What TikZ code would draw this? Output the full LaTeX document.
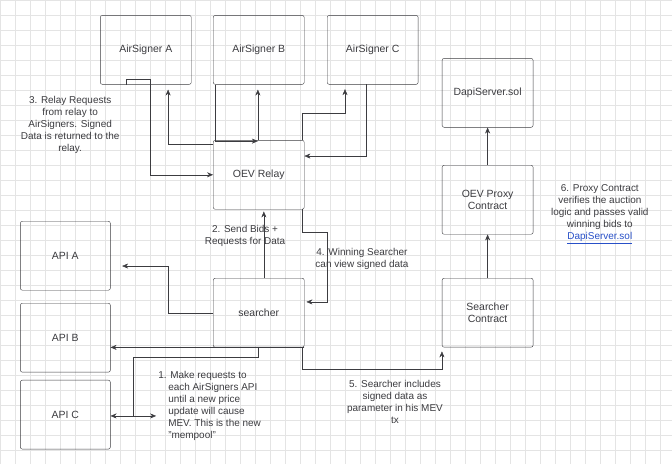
\documentclass[tikz,border=0pt]{standalone}
\usepackage{fontspec}
\setmainfont{Liberation Sans}
\usetikzlibrary{arrows.meta}
\definecolor{gridc}{RGB}{228,228,228}
\definecolor{ink}{RGB}{60,60,64}
\definecolor{linkc}{RGB}{40,80,200}
\begin{document}
\begin{tikzpicture}[x=1bp,y=-1bp,
  box/.style={draw=ink,rounded corners=2bp,minimum width=91bp,minimum height=69bp,anchor=north west,inner sep=0pt,font=\fontsize{10.5}{12.5}\selectfont,text=ink,align=center},
  note/.style={font=\fontsize{10}{12}\selectfont,text=ink,align=center,inner sep=0pt},
  con/.style={draw=ink,-{Stealth[length=6bp,width=5bp]}}]
\fill[white] (0,0) rectangle (672,464);
\draw[gridc,step=15bp] (0,0) grid (672,464);
% boxes
\node[box] (asa) at (100,15) {AirSigner A};
\node[box] (asb) at (213,15) {AirSigner B};
\node[box] (asc) at (327,15) {AirSigner C};
\node[box] (relay) at (213,140) {OEV Relay};
\node[box] (dapi) at (442,58) {DapiServer.sol};
\node[box] (proxy) at (442,165) {OEV Proxy\\Contract};
\node[box] (scon) at (442,278) {Searcher\\Contract};
\node[box] (srch) at (213,278) {searcher};
\node[box,minimum width=90bp] (apia) at (20,221) {API A};
\node[box,minimum width=90bp] (apib) at (20,303) {API B};
\node[box,minimum width=90bp] (apic) at (20,380) {API C};
% relay <-> airsigners
\draw[con] (asa.south west) ++(26,0) -- ++(0,-5) -| ++(24,5) |- (relay.west);
\draw[con] ([yshift=-4]relay.north west) -| ([yshift=-5]asa.south east -| 168,0);
\draw[con] (asb.south west) ++(2,0) |- ([xshift=45,yshift=-1]relay.north west);
\draw[con] ([xshift=45]relay.north west) -- ([xshift=45,yshift=-5]asb.south west);
\draw[con] ([xshift=-2]relay.north east) |- (345,113) -- (345,89);
\draw[con] (366,84) |- ([yshift=-16]relay.north east);
% searcher
\draw[con] ([xshift=51]srch.north west) -- ([xshift=51,yshift=-2]relay.south west);
\draw[con] ([xshift=-2]relay.south east) |- (327,232) |- ([xshift=2,yshift=-24]srch.north east);
\draw[con] ([yshift=34]srch.south west) -| (168,266) -- (122,266);
\draw[con] (srch.south east) -- (apib.south east |- srch.south east);
\coordinate (c1) at (133,416);
\draw[ink] ([xshift=45]srch.south west) |- (133,357) -- (c1);
\draw[con] (c1) -- (apic.east |- c1);
\draw[con] (c1) -- (156,416);
\draw[con] ([xshift=-2]srch.south east) |- (442,369) -- ([yshift=-4]scon.south west);
\draw[con] (scon.north) -- (proxy.south);
\draw[con] (proxy.north) -- (dapi.south);
% notes
\node[note] at (70,125) {3. Relay Requests\\from relay to\\AirSigners. Signed\\Data is returned to the\\relay.};
\node[note] at (245,236) {2. Send Bids +\\Requests for Data};
\node[note] at (362,259) {4. Winning Searcher\\can view signed data};
\node[note,align=left,anchor=north west] at (158,371) {1. Make requests to\\\hspace*{1em}each AirSigners API\\\hspace*{1em}until a new price\\\hspace*{1em}update will cause\\\hspace*{1em}MEV. This is the new\\\hspace*{1em}"mempool"};
\node[note] at (395,402) {5. Searcher includes\\signed data as\\parameter in his MEV\\tx};
\node[note] at (600,214) {6. Proxy Contract\\verifies the auction\\logic and passes valid\\winning bids to\\\textcolor{linkc}{\underline{DapiServer.sol}}};
\end{tikzpicture}
\end{document}
